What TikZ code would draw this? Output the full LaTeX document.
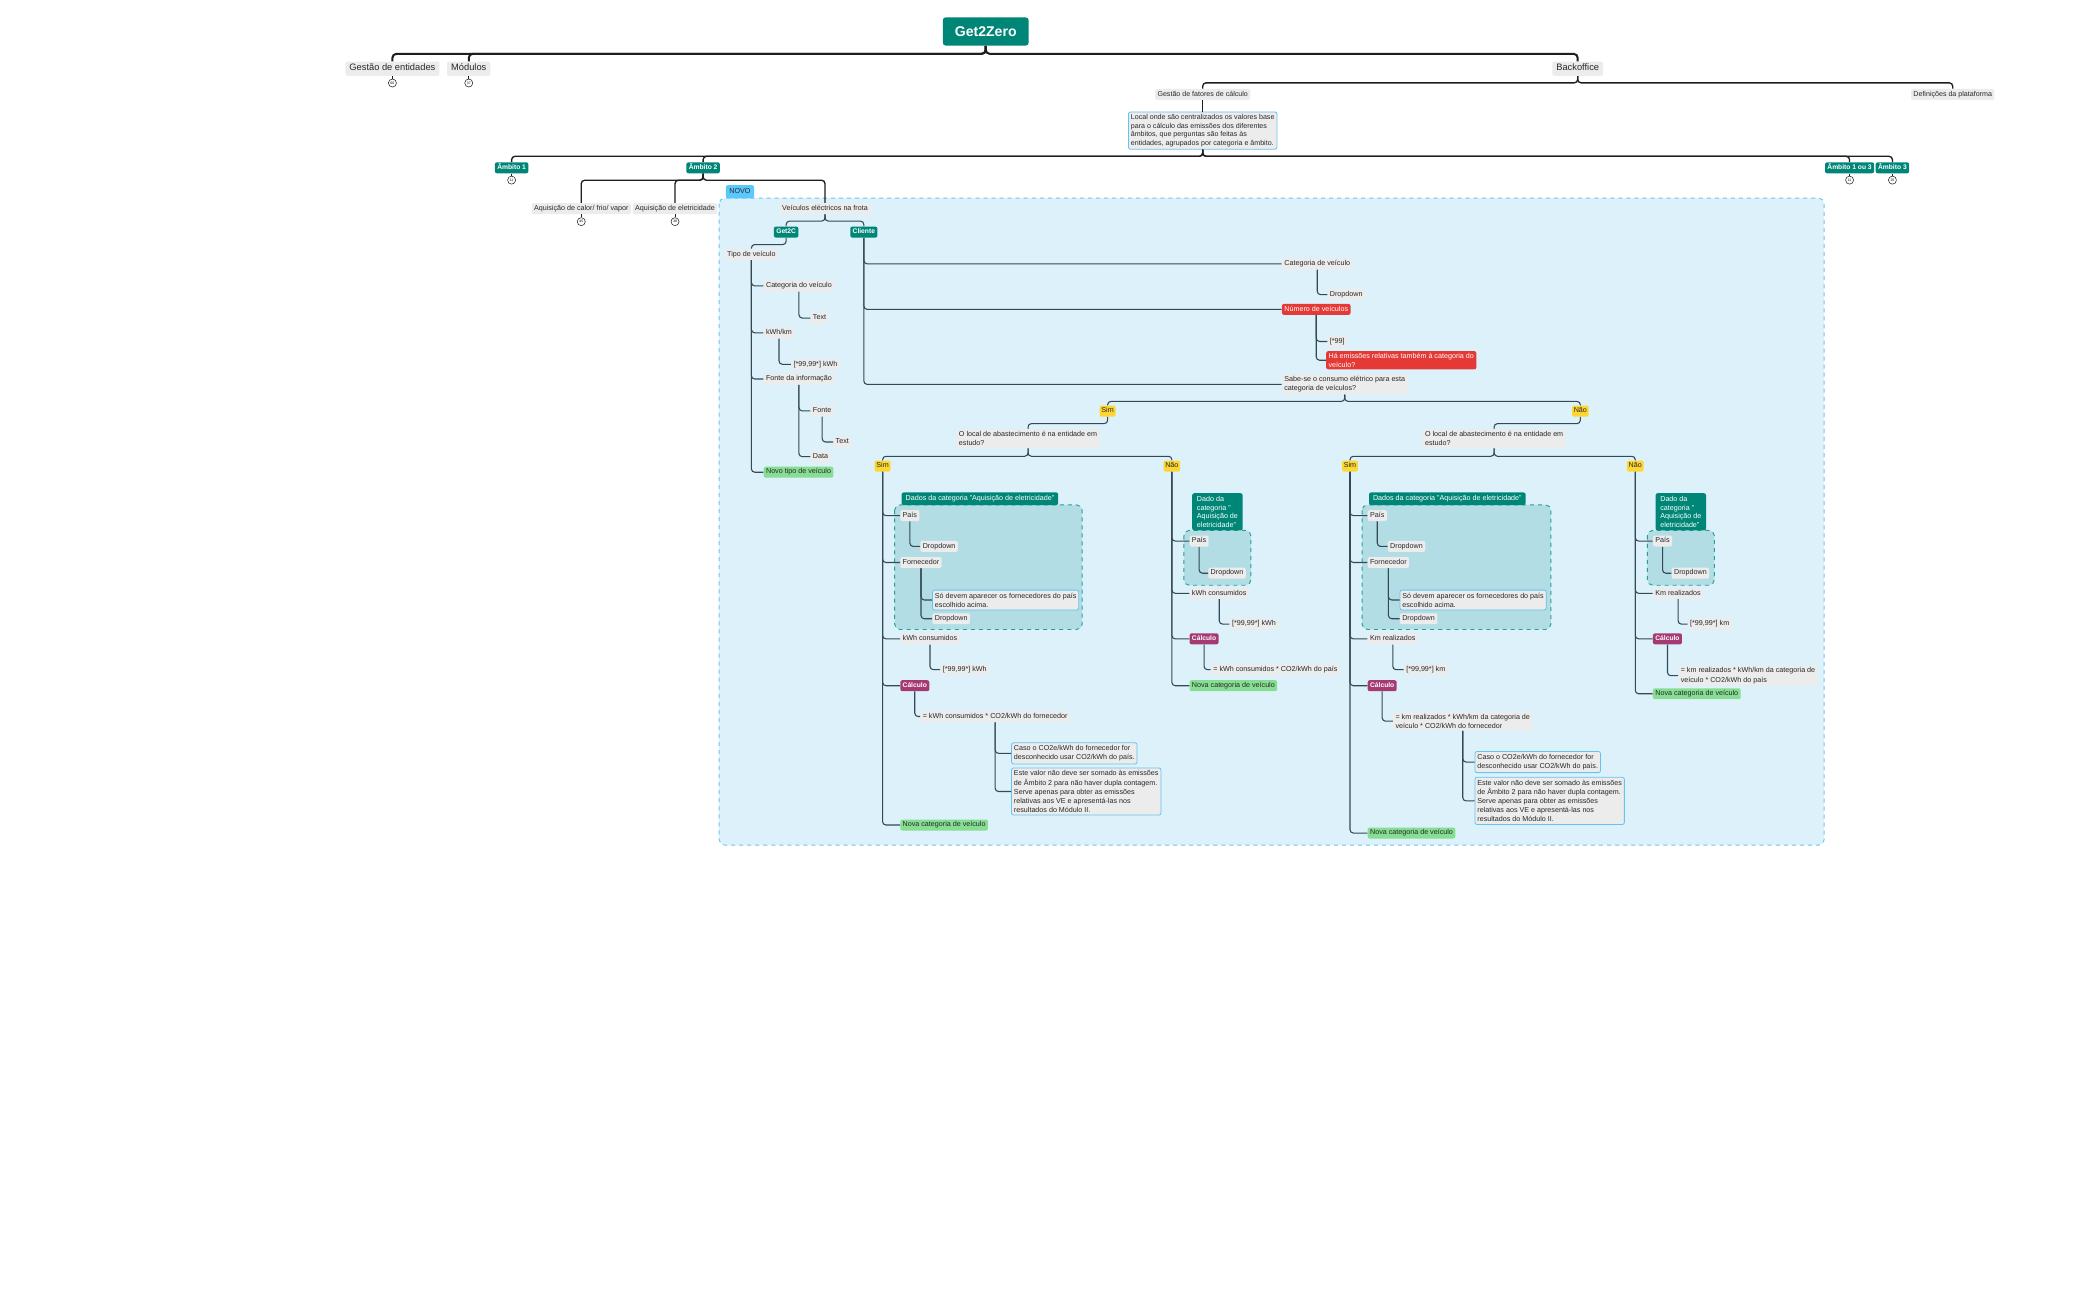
\documentclass[tikz,border=0pt]{standalone}
\usepackage{fontspec}
\setmainfont{Liberation Sans}
\definecolor{tealc}{RGB}{0,134,118}
\definecolor{gfill}{RGB}{236,236,236}
\definecolor{bluebd}{RGB}{100,195,240}
\definecolor{novoc}{RGB}{90,200,250}
\definecolor{bndfill}{RGB}{221,241,251}
\definecolor{bnddraw}{RGB}{110,198,242}
\definecolor{grpfill}{RGB}{178,221,228}
\definecolor{grpdraw}{RGB}{38,160,145}
\definecolor{yel}{RGB}{253,214,50}
\definecolor{mag}{RGB}{165,58,115}
\definecolor{redc}{RGB}{229,57,53}
\definecolor{grn}{RGB}{134,222,146}
\definecolor{linek}{RGB}{30,30,30}
\definecolor{lines}{RGB}{52,73,85}
\definecolor{txt}{RGB}{40,40,40}
\newcommand\fsn{\fontsize{5.35}{6.8}\selectfont}
\newcommand\fsnb{\fontsize{5.0}{6.8}\selectfont\bfseries}
\newcommand\fsl{\fontsize{6.95}{8}\selectfont}
\newcommand\fss{\fontsize{5.3}{6.3}\selectfont}
\begin{document}
\begin{tikzpicture}[x=1pt,y=-1pt,
  base/.style={rounded corners=1.5pt, inner xsep=1.8pt, inner ysep=1.6pt, font=\fsn, text=txt, anchor=west},
  one/.style={text height=3.8pt, text depth=1.2pt},
  gn/.style={base, one, fill=gfill},
  gm/.style={base, fill=gfill, align=left},
  nt/.style={base, fill=gfill, draw=bluebd, line width=0.6pt, align=left, inner ysep=2pt},
  tl/.style={base, one, fill=tealc, text=white, font=\fsnb},
  tab/.style={base, one, fill=tealc, text=white, inner xsep=3pt, inner ysep=2.2pt, anchor=south west},
  tabm/.style={base, fill=tealc, text=white, align=left, inner xsep=3.5pt, inner ysep=2.2pt, anchor=south west, font=\fontsize{5.35}{6.5}\selectfont},
  yl/.style={base, one, fill=yel, inner xsep=1.3pt, anchor=center},
  mg/.style={base, one, fill=mag, text=white, font=\fsnb},
  rd/.style={base, one, fill=redc, text=white},
  rdm/.style={base, fill=redc, text=white, align=left},
  gr/.style={base, one, fill=grn},
  lvl/.style={base, fill=gfill, font=\fsl, text height=4.8pt, text depth=1.5pt, inner xsep=3pt, inner ysep=2.2pt, anchor=center},
  cnt/.style={circle, draw=linek, line width=0.4pt, minimum size=6pt, inner sep=0pt, fill=white, font=\fontsize{2.6}{3}\selectfont},
  connk/.style={draw=linek, line width=1pt, rounded corners=2.5pt},
  connm/.style={draw=linek, line width=1.5pt, rounded corners=3pt},
  conn/.style={draw=lines, line width=0.8pt, rounded corners=2.5pt},
  thin/.style={draw=linek, line width=0.5pt},
  bnd/.style={draw=bnddraw, fill=bndfill, dashed, line width=0.7pt, rounded corners=4pt},
  grp/.style={draw=grpdraw, fill=grpfill, dashed, line width=0.7pt, rounded corners=4pt}
]
\useasboundingbox[fill=white] (0,0) rectangle (1568,971);

% ---------- NOVO area ----------
\draw[bnd] (537,148) rectangle (1362,631);
\node[base, one, fill=novoc, anchor=center, minimum width=21pt, minimum height=10pt, text=txt] (novo) at (552.5,143.2) {NOVO};
\draw[grp] (668,377) rectangle (808,470);
\draw[grp] (884,396) rectangle (934,437);
\draw[grp] (1017,377) rectangle (1158,470);
\draw[grp] (1230,396) rectangle (1280,437);

% ---------- top ----------
\node[base, fill=tealc, text=white, font=\fontsize{10.5}{12}\selectfont\bfseries, anchor=center, minimum width=64pt, minimum height=21pt, rounded corners=2pt] (g2z) at (736,23.5) {Get2Zero};
\node[lvl] (gent) at (293,51.3) {Gestão de entidades};
\node[lvl] (mod) at (350,51.3) {Módulos};
\node[lvl] (bo) at (1178,51.3) {Backoffice};
\node[cnt] (c1) at (293,62) {60};
\node[cnt] (c2) at (350,62) {37};
\draw[thin] (gent.south) -- (c1.north);
\draw[thin] (mod.south) -- (c2.north);

\node[gn, font=\fss, anchor=center] (gfat) at (898,70.5) {Gestão de fatores de cálculo};
\node[gn, font=\fss, anchor=center] (defp) at (1458,70.5) {Definições da plataforma};
\node[nt, font=\fss, anchor=center] (local) at (898,97.5) {Local onde são centralizados os valores base\\para o cálculo das emissões dos diferentes\\âmbitos, que perguntas são feitas às\\entidades, agrupados por categoria e âmbito.};

\node[tl, anchor=center] (a1) at (382,125.3) {Âmbito 1};
\node[tl, anchor=center] (a2) at (525,125.3) {Âmbito 2};
\node[tl, anchor=center] (a13) at (1381,125.3) {Âmbito 1 ou 3};
\node[tl, anchor=center] (a3) at (1413,125.3) {Âmbito 3};
\node[cnt] (c3) at (382,134.5) {11};
\node[cnt] (c6) at (1381,134.5) {11};
\node[cnt] (c7) at (1413,134.5) {25};
\draw[thin] (a1.south) -- (c3.north);
\draw[thin] (a13.south) -- (c6.north);
\draw[thin] (a3.south) -- (c7.north);

\node[gn, anchor=center] (calor) at (434,155.8) {Aquisição de calor/ frio/ vapor};
\node[gn, anchor=center] (elet) at (504,155.8) {Aquisição de eletricidade};
\node[gn, anchor=center] (veic) at (616,155.8) {Veículos eléctricos na frota};
\node[cnt] (c4) at (434,165.5) {45};
\node[cnt] (c5) at (504,165.5) {38};
\draw[thin] (calor.south) -- (c4.north);
\draw[thin] (elet.south) -- (c5.north);

\draw[connm] (g2z.south) -- ++(0,6) -| (gent.north);
\draw[connm] (g2z.south) -- ++(0,6) -| (mod.north);
\draw[connm] (g2z.south) -- ++(0,6) -| (bo.north);
\draw[connk] (bo.south) -- ++(0,5) -| (gfat.north);
\draw[connk] (bo.south) -- ++(0,5) -| (defp.north);
\draw[connk] (gfat.south) -- (local.north);
\draw[connk] (local.south) -- ++(0,5) -| (a1.north);
\draw[connk] (local.south) -- ++(0,5) -| (a2.north);
\draw[connk] (local.south) -- ++(0,5) -| (a13.north);
\draw[connk] (local.south) -- ++(0,5) -| (a3.north);
\draw[connk] (a2.south) -- ++(0,5) -| (calor.north);
\draw[connk] (a2.south) -- ++(0,5) -| (elet.north);
\draw[connk] (a2.south) -- ++(0,5) -| (veic.north);

% ---------- Get2C / Cliente ----------
\node[tl, anchor=center] (g2c) at (587,173.3) {Get2C};
\node[tl, anchor=center] (cli) at (645,173.3) {Cliente};
\draw[conn] (veic.south) -- ++(0,5) -| (g2c.north);
\draw[conn] (veic.south) -- ++(0,5) -| (cli.north);

\node[gn] (tipo) at (541,190) {Tipo de veículo};
\draw[conn] (g2c.south) -- ++(0,5) -| (tipo.north);
\node[gn] (catv) at (570,213.5) {Categoria do veículo};
\node[gn] (txt1) at (605,237.5) {Text};
\node[gn] (kwhkm) at (570,248.5) {kWh/km};
\node[gn] (k99) at (590.5,272) {[*99,99*] kWh};
\node[gn] (finf) at (570,283) {Fonte da informação};
\node[gn] (fonte) at (605,306.8) {Fonte};
\node[gn] (txt2) at (622,330) {Text};
\node[gn] (data) at (605,341) {Data};
\node[gr] (ntipo) at (570,352.6) {Novo tipo de veículo};
\foreach \c in {catv,kwhkm,finf,ntipo} \draw[conn] (tipo.south) |- (\c.west);
\draw[conn] (catv.south) |- (txt1.west);
\draw[conn] (kwhkm.south) |- (k99.west);
\draw[conn] (finf.south) |- (fonte.west);
\draw[conn] (finf.south) |- (data.west);
\draw[conn] (fonte.south) |- (txt2.west);

\node[gn] (catc) at (957,197) {Categoria de veículo};
\node[gn] (dd1) at (991,220) {Dropdown};
\node[rd] (numv) at (957,231) {Número de veículos};
\node[gn] (n99) at (991,255) {[*99]};
\node[rdm, font=\fontsize{5.35}{6.4}\selectfont] (haem) at (990,269) {Há emissões relativas também à categoria do\\veículo?};
\node[gm] (sabe) at (957,287) {Sabe-se o consumo elétrico para esta\\categoria de veículos?};
\foreach \c in {catc,numv,sabe} \draw[conn] (cli.south) |- (\c.west);
\draw[conn] (catc.south) |- (dd1.west);
\draw[conn] (numv.south) |- (n99.west);
\draw[conn] (numv.south) |- (haem.west);

\node[yl] (sim0) at (827,307) {Sim};
\node[yl] (nao0) at (1180,307) {Não};
\draw[conn] (sabe.south) -- ++(0,5) -| (sim0.north);
\draw[conn] (sabe.south) -- ++(0,5) -| (nao0.north);

\node[gm] (loc1) at (714,327.5) {O local de abastecimento é na entidade em\\estudo?};
\node[gm] (loc2) at (1062,327.5) {O local de abastecimento é na entidade em\\estudo?};
\draw[conn] (sim0.south) -- ++(0,5) -| (loc1.north);
\draw[conn] (nao0.south) -- ++(0,5) -| (loc2.north);

\node[yl] (simA) at (659,348) {Sim};
\node[yl] (naoA) at (875,348) {Não};
\node[yl] (simB) at (1008,348) {Sim};
\node[yl] (naoB) at (1221,348) {Não};
\draw[conn] (loc1.south) -- ++(0,6) -| (simA.north);
\draw[conn] (loc1.south) -- ++(0,6) -| (naoA.north);
\draw[conn] (loc2.south) -- ++(0,6) -| (simB.north);
\draw[conn] (loc2.south) -- ++(0,6) -| (naoB.north);

% ---------- Sim A ----------
\node[tab] (tabA) at (673,377.3) {Dados da categoria "Aquisição de eletricidade"};
\node[gn] (paisA) at (672,385) {País};
\node[gn] (ddA1) at (687,408) {Dropdown};
\node[gn] (fornA) at (672,420) {Fornecedor};
\node[nt] (sodA) at (696,448) {Só devem aparecer os fornecedores do país\\escolhido acima.};
\node[gn] (ddA2) at (696,462) {Dropdown};
\node[gn] (kwhA) at (672,477) {kWh consumidos};
\node[gn] (k99A) at (702,500) {[*99,99*] kWh};
\node[mg] (calcA) at (672,512) {Cálculo};
\node[gn] (eqA) at (687,535) {= kWh consumidos * CO2/kWh do fornecedor};
\node[nt] (casoA) at (755,562.5) {Caso o CO2e/kWh do fornecedor for\\desconhecido usar CO2/kWh do país.};
\node[nt] (esteA) at (755,591) {Este valor não deve ser somado às emissões\\de Âmbito 2 para não haver dupla contagem.\\Serve apenas para obter as emissões\\relativas aos VE e apresentá-las nos\\resultados do Módulo II.};
\node[gr] (novaA) at (672,616) {Nova categoria de veículo};
\foreach \c in {paisA,fornA,kwhA,calcA,novaA} \draw[conn] (simA.south) |- (\c.west);
\draw[conn] (paisA.south) |- (ddA1.west);
\draw[conn] (fornA.south) |- (sodA.west);
\draw[conn] (fornA.south) |- (ddA2.west);
\draw[conn] (kwhA.south) |- (k99A.west);
\draw[conn] (calcA.south) |- (eqA.west);
\draw[conn] (eqA.south) |- (casoA.west);
\draw[conn] (eqA.south) |- (esteA.west);

% ---------- Não A ----------
\node[tabm] (tabB) at (890,396.3) {Dado da\\categoria "\\Aquisição de\\eletricidade"};
\node[gn] (paisB) at (888,404) {País};
\node[gn] (ddB) at (902,428) {Dropdown};
\node[gn] (kwhB) at (888,443) {kWh consumidos};
\node[gn] (k99B) at (918,466) {[*99,99*] kWh};
\node[mg] (calcB) at (888,477) {Cálculo};
\node[gn] (eqB) at (904,500) {= kWh consumidos * CO2/kWh do país};
\node[gr] (novaB) at (888,512) {Nova categoria de veículo};
\foreach \c in {paisB,kwhB,calcB,novaB} \draw[conn] (naoA.south) |- (\c.west);
\draw[conn] (paisB.south) |- (ddB.west);
\draw[conn] (kwhB.south) |- (k99B.west);
\draw[conn] (calcB.south) |- (eqB.west);

% ---------- Sim B ----------
\node[tab] (tabC) at (1022,377.3) {Dados da categoria "Aquisição de eletricidade"};
\node[gn] (paisC) at (1021,385) {País};
\node[gn] (ddC1) at (1036,408) {Dropdown};
\node[gn] (fornC) at (1021,420) {Fornecedor};
\node[nt] (sodC) at (1045,448) {Só devem aparecer os fornecedores do país\\escolhido acima.};
\node[gn] (ddC2) at (1045,462) {Dropdown};
\node[gn] (kmC) at (1021,477) {Km realizados};
\node[gn] (k99C) at (1048,500) {[*99,99*] km};
\node[mg] (calcC) at (1021,512) {Cálculo};
\node[gm] (eqC) at (1040,538.5) {= km realizados * kWh/km da categoria de\\veículo * CO2/kWh do fornecedor};
\node[nt] (casoC) at (1101,569) {Caso o CO2e/kWh do fornecedor for\\desconhecido usar CO2/kWh do país.};
\node[nt] (esteC) at (1101,598) {Este valor não deve ser somado às emissões\\de Âmbito 2 para não haver dupla contagem.\\Serve apenas para obter as emissões\\relativas aos VE e apresentá-las nos\\resultados do Módulo II.};
\node[gr] (novaC) at (1021,622) {Nova categoria de veículo};
\foreach \c in {paisC,fornC,kmC,calcC,novaC} \draw[conn] (simB.south) |- (\c.west);
\draw[conn] (paisC.south) |- (ddC1.west);
\draw[conn] (fornC.south) |- (sodC.west);
\draw[conn] (fornC.south) |- (ddC2.west);
\draw[conn] (kmC.south) |- (k99C.west);
\draw[conn] (calcC.south) |- (eqC.west);
\draw[conn] (eqC.south) |- (casoC.west);
\draw[conn] (eqC.south) |- (esteC.west);

% ---------- Não B ----------
\node[tabm] (tabD) at (1236,396.3) {Dado da\\categoria "\\Aquisição de\\eletricidade"};
\node[gn] (paisD) at (1234,404) {País};
\node[gn] (ddD) at (1248,428) {Dropdown};
\node[gn] (kmD) at (1234,443) {Km realizados};
\node[gn] (k99D) at (1260,466) {[*99,99*] km};
\node[mg] (calcD) at (1234,477) {Cálculo};
\node[gm] (eqD) at (1253,504.5) {= km realizados * kWh/km da categoria de\\veículo * CO2/kWh do país};
\node[gr] (novaD) at (1234,518) {Nova categoria de veículo};
\foreach \c in {paisD,kmD,calcD,novaD} \draw[conn] (naoB.south) |- (\c.west);
\draw[conn] (paisD.south) |- (ddD.west);
\draw[conn] (kmD.south) |- (k99D.west);
\draw[conn] (calcD.south) |- (eqD.west);
\end{tikzpicture}
\end{document}
